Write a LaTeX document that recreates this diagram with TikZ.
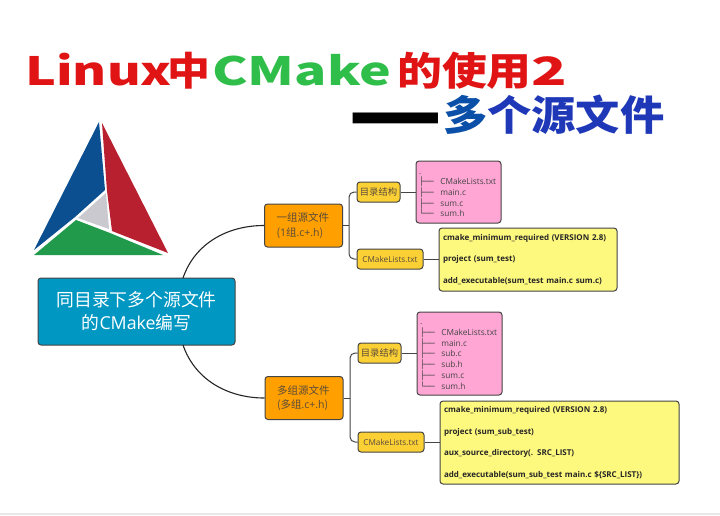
\documentclass[tikz,border=0pt]{standalone}
\usepackage{fontspec}
\setmainfont{Noto Sans CJK SC}
\newfontfamily\tfont{Noto Sans CJK SC Black}
\newfontfamily\lat{Open Sans}
\newfontfamily\latb{Open Sans Bold}
\newfontfamily\djv{DejaVu Sans}
\definecolor{bord}{HTML}{444444}
\definecolor{cor}{HTML}{FFA000}
\definecolor{cgo}{HTML}{FBD035}
\definecolor{cpi}{HTML}{FFA6D5}
\definecolor{cye}{HTML}{FDF87E}
\definecolor{cbl}{HTML}{0097C2}
\definecolor{tred}{HTML}{E01414}
\definecolor{tgre}{HTML}{2FBE4A}
\definecolor{tblu}{HTML}{1E38B8}
\definecolor{tblb}{HTML}{0A4FA8}
\definecolor{ltxt}{HTML}{5A4A3A}
\newcommand\tr{{\djv ├──}\hspace{6.3pt}}
\newcommand\te{{\djv └──}\hspace{6.3pt}}
\tikzset{
  boxb/.style={draw=bord,line width=1pt,rounded corners=3pt,inner sep=0pt,align=center},
  rootbox/.style={boxb,fill=cbl,text=white,font=\fontsize{17.8}{23}\selectfont,minimum width=197pt,minimum height=67pt},
  groupbox/.style={boxb,fill=cor,text=ltxt,align=left,font=\fontsize{10.5}{14.5}\selectfont,text width=54pt,inner xsep=12pt,minimum height=43pt},
  tagbox/.style={boxb,fill=cgo,text=ltxt,font=\fontsize{9.3}{11}\selectfont,minimum height=20pt},
  treebox/.style={boxb,fill=cpi,text=bord,align=left,font=\lat\fontsize{8.3}{10.7}\selectfont,text width=#1-6pt,inner xsep=3pt},
  codebox/.style={boxb,fill=cye,text=black!85,align=left,font=\latb\fontsize{8}{21.4}\selectfont,text width=#1-8pt,inner xsep=4pt},
  link/.style={draw=bord,line width=1pt},
  mainlink/.style={draw=black!85,line width=1.1pt},
  ttl/.style={inner sep=0pt,anchor=base west,font=\tfont\fontsize{39}{39}\selectfont},
}
\begin{document}
\begin{tikzpicture}[x=1pt,y=-1pt]
\useasboundingbox (0,0) rectangle (720,515);
\fill[white] (0,0) rectangle (720,515);
\fill[black!9] (0,513) rectangle (720,515);
% title
\node[ttl,text=tred,xscale=1.33] (t1) at (25,85) {Linux};
\node[ttl,text=tred,xscale=1.1] (t2) at (167,85) {中};
\node[ttl,text=tgre,xscale=1.37] (t3) at (212,85) {CMake};
\node[ttl,text=tred,xscale=1.15] (t4) at (397,85) {的使用};
\node[ttl,text=tred,xscale=1.5] (t5) at (531,85) {2};
\node[ttl,text=black,font=\tfont\fontsize{44}{44}\selectfont,xscale=1.2,yscale=2.2] (t6) at (350,146) {——};
\node[ttl,text=tblb,font=\tfont\fontsize{41}{41}\selectfont,xscale=1.08] (t7) at (443,130) {多};
\node[ttl,text=tblu,font=\tfont\fontsize{41}{41}\selectfont,xscale=1.08] (t8) at (487,130) {个源文件};
% logo
\fill[fill={rgb,255:red,11;green,79;blue,144}] (99,122) -- (105,190) -- (75,217) -- (34,250) -- cycle;
\fill[fill={rgb,255:red,185;green,32;blue,47}] (102,123) -- (107,191) -- (112,231) -- (168,253) -- cycle;
\fill[fill={rgb,255:red,201;green,201;blue,207}] (106,193) -- (109,229) -- (78,218) -- cycle;
\fill[fill={rgb,255:red,34;green,154;blue,75}] (76,220) -- (110,233) -- (163,255) -- (34,255) -- cycle;
% nodes
\node[rootbox] (root) at (136.5,311.5) {同目录下多个源文件\\的{\lat CMake}编写};
\node[groupbox] (g1) at (303.5,225.5) {一组源文件\\({\lat 1}组{\lat .c+.h})};
\node[groupbox] (g2) at (304,398) {多组源文件\\(多组{\lat .c+.h})};
\node[tagbox,minimum width=43pt] (d1) at (378.5,192) {目录结构};
\node[tagbox,minimum width=66pt,font=\lat\fontsize{8.2}{10}\selectfont] (c1) at (390,259) {CMakeLists.txt};
\node[tagbox,minimum width=43pt] (d2) at (379.5,353) {目录结构};
\node[tagbox,minimum width=66pt,font=\lat\fontsize{8.2}{10}\selectfont] (c2) at (391,442) {CMakeLists.txt};
\node[treebox=85pt,minimum height=62pt] (p1) at (458.5,192) {\rule{0pt}{7pt}.\\\tr CMakeLists.txt\\\tr main.c\\\tr sum.c\\\te sum.h};
\node[treebox=85pt,minimum height=83pt] (p2) at (459.5,353.5) {\rule{0pt}{7pt}.\\\tr CMakeLists.txt\\\tr main.c\\\tr sub.c\\\tr sub.h\\\tr sum.c\\\te sum.h};
\node[codebox=178pt,minimum height=63pt] (y1) at (528,259.5) {cmake\_minimum\_required (VERSION 2.8)\\project (sum\_test)\\add\_executable(sum\_test main.c sum.c)};
\node[codebox=239pt,minimum height=83pt] (y2) at (559.5,442.5) {cmake\_minimum\_required (VERSION 2.8)\\project (sum\_sub\_test)\\aux\_source\_directory(. SRC\_LIST)\\add\_executable(sum\_sub\_test main.c \$\{SRC\_LIST\})};
% connectors
\coordinate (r1) at (183,278);
\coordinate (r2) at (183,345);
\coordinate (k1) at (349,225.5);
\coordinate (k2) at (350,398);
\draw[mainlink] (r1) .. controls (195,243) and (228,225.5) .. (g1.west);
\draw[mainlink] (r2) .. controls (195,380) and (228,398) .. (g2.west);
\draw[link] (g1.east) -- (k1);
\draw[link] (g2.east) -- (k2);
\draw[link,rounded corners=5pt] (d1.west) -| (k1) |- (c1.west);
\draw[link,rounded corners=5pt] (d2.west) -| (k2) |- (c2.west);
\draw[link] (d1.east) -- (p1.west |- d1.east);
\draw[link] (c1.east) -- (y1.west |- c1.east);
\draw[link] (d2.east) -- (p2.west |- d2.east);
\draw[link] (c2.east) -- (y2.west |- c2.east);
\end{tikzpicture}
\end{document}
